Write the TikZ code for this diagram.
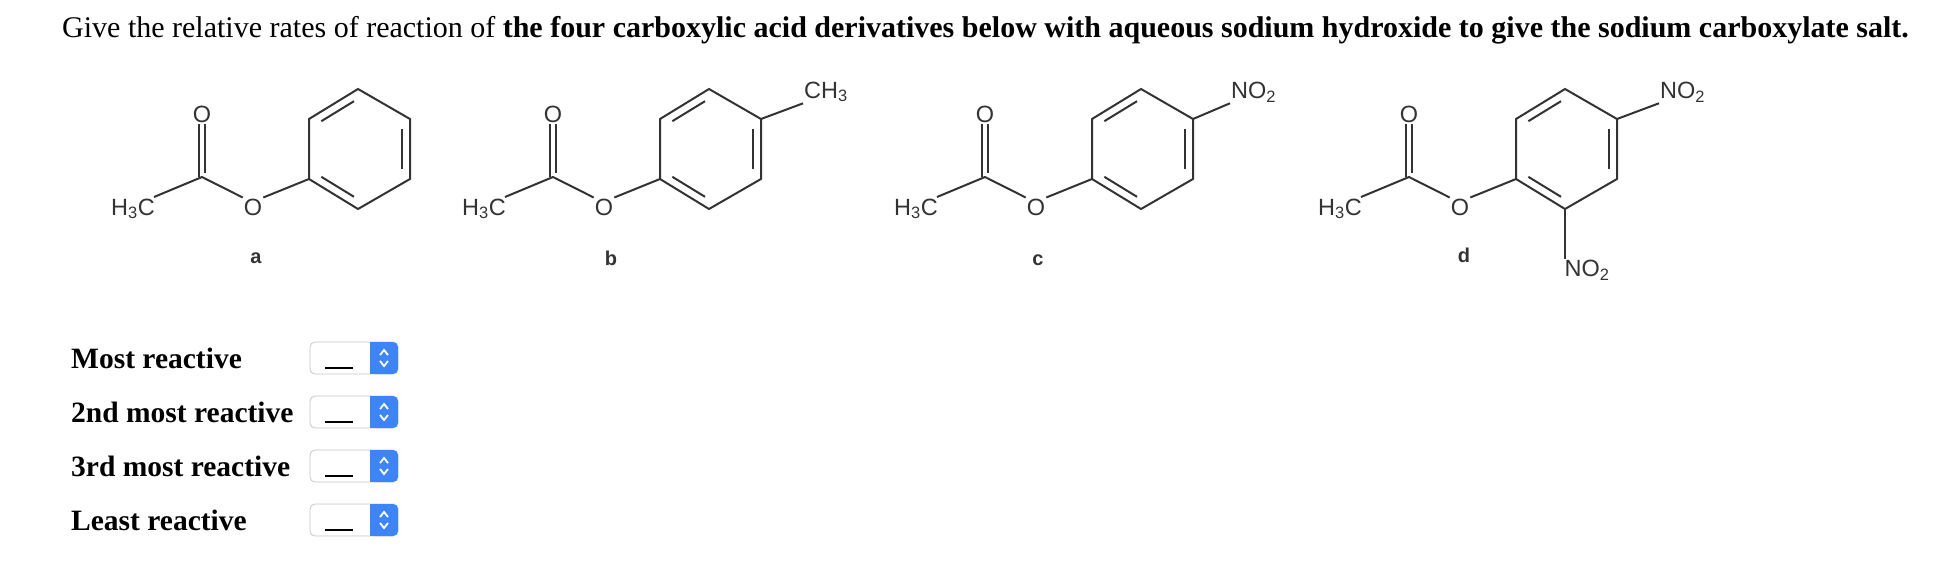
\documentclass[tikz,border=0pt]{standalone}
\usepackage{fontspec}
\setmainfont{Liberation Serif}
\newfontfamily\chemfont{Liberation Sans}
\usetikzlibrary{calc}
\definecolor{bondc}{HTML}{333333}
\definecolor{selblue}{HTML}{3D84F7}
\tikzset{
 bond/.style={draw=bondc,line width=2pt},
 atom/.style={font=\chemfont\fontsize{23.5}{23.5}\selectfont,text=bondc,inner sep=1pt},
 lbl/.style={font=\chemfont\bfseries\fontsize{20}{20}\selectfont,text=bondc},
 rowlbl/.style={font=\bfseries\fontsize{29.5}{29.5}\selectfont,anchor=west,inner sep=0pt},
}
\newcommand{\ringmol}[2]{%
\begin{scope}[xshift=#2pt]
 \coordinate (#1ip) at (309,179); \coordinate (#1bo) at (358,209);
 \coordinate (#1lr) at (410,179); \coordinate (#1ur) at (410,119);
 \coordinate (#1tp) at (358,89); \coordinate (#1ul) at (309,119);
 \coordinate (#1cc) at (359.5,149);
 \coordinate (#1c) at (202,177); \coordinate (#1oe) at (202,128);
 \node[atom] (#1me) at (133,209) {H\textsubscript{3}C};
 \node[atom] (#1o) at (202,114) {O};
 \node[atom] (#1e) at (253,207) {O};
 \draw[bond] (#1ip)--(#1bo)--(#1lr)--(#1ur)--(#1tp)--(#1ul)--cycle;
 \foreach \p/\q in {ul/tp,ur/lr,ip/bo}{
  \draw[bond,shorten <=5pt,shorten >=5pt] ($(#1cc)!0.84!(#1\p)$)--($(#1cc)!0.84!(#1\q)$);}
 \draw[bond] (#1me.east)++(-2,-12) coordinate (#1m1) (#1m1)--(#1c)--(#1e.north west);
 \draw[bond] (#1e.north east)--(#1ip);
 \draw[bond] ($(#1c)+(-3,0)$)--($(#1o.south)+(-3,0)$);
 \draw[bond] ($(#1c)+(3,-4)$)--($(#1o.south)+(3,0)$);
\end{scope}}
\newcommand{\dropdown}[2]{%
 \draw[draw=gray!45,fill=white,rounded corners=5pt,line width=0.8pt] (310,#2-16) rectangle (398,#2+16);
 \fill[selblue,rounded corners=5pt] (370,#2-16) rectangle (398,#2+16);
 \fill[selblue] (370,#2-16) rectangle (380,#2+16);
 \draw[line width=1.3pt] (325,#2+10)--(353,#2+10);
 \draw[white,line width=1.8pt] (380,#2-3)--(384,#2-8)--(388,#2-3);
 \draw[white,line width=1.8pt] (380,#2+3)--(384,#2+8)--(388,#2+3);
 \node[rowlbl] (#1) at (71,#2) {};}
\begin{document}
\begin{tikzpicture}[x=1pt,y=-1pt]
\useasboundingbox (0,0) rectangle (1934,586);
\node[anchor=west,inner sep=0pt,font=\fontsize{30}{30}\selectfont] (title) at (62,30) {Give the relative rates of reaction of \textbf{the four carboxylic acid derivatives below with aqueous sodium hydroxide to give the sodium carboxylate salt.}};
\ringmol{a}{0}
\ringmol{b}{351}
\ringmol{c}{783}
\ringmol{d}{1207}
\node[lbl] (la) at (256,258) {a};
\node[lbl] (lb) at (611,258) {b};
\node[lbl] (lc) at (1038,260) {c};
\node[lbl] (ld) at (1464,255) {d};
% substituents
\node[atom,anchor=west] (bme) at (803,92) {CH\textsubscript{3}};
\draw[bond] (bur)--(bme.south west);
\node[atom,anchor=west] (cno) at (1230,92) {NO\textsubscript{2}};
\draw[bond] (cur)--(cno.south west);
\node[atom,anchor=west] (dno) at (1659,92) {NO\textsubscript{2}};
\draw[bond] (dur)--(dno.south west);
\node[atom,anchor=north] (dno2) at (1587,259) {NO\textsubscript{2}};
\draw[bond] (dbo)--(dbo|-dno2.north);
% answer rows
\node[rowlbl] (r1) at (71,358) {Most reactive};
\node[rowlbl] (r2) at (71,412) {2nd most reactive};
\node[rowlbl] (r3) at (71,466) {3rd most reactive};
\node[rowlbl] (r4) at (71,520) {Least reactive};
\dropdown{s1}{358}
\dropdown{s2}{412}
\dropdown{s3}{466}
\dropdown{s4}{520}
\end{tikzpicture}
\end{document}
